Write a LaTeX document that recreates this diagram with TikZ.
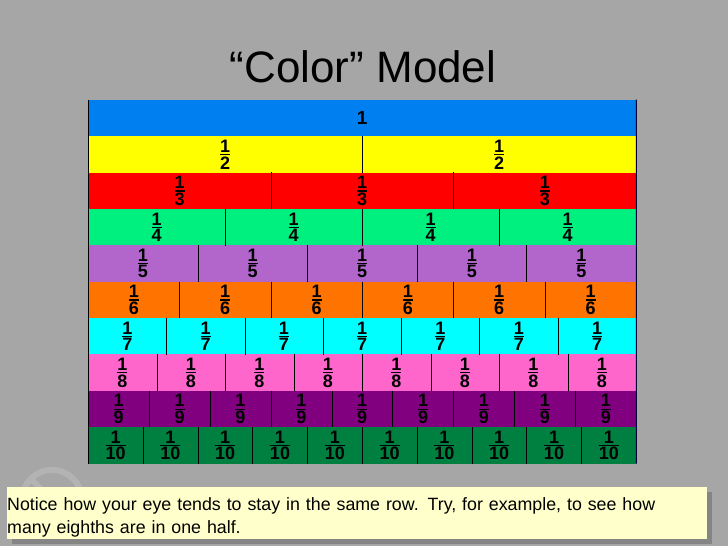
\documentclass[tikz,border=0pt]{standalone}
\usepackage{amsmath}
\usepackage{fontspec}
\setmainfont{Liberation Sans}
\usetikzlibrary{calc,shadows}

\definecolor{bg}{HTML}{A6A6A6}
\definecolor{rowi}{HTML}{0080F0}
\definecolor{rowii}{HTML}{FFFF00}
\definecolor{rowiii}{HTML}{FF0000}
\definecolor{rowiv}{HTML}{00F080}
\definecolor{rowv}{HTML}{B266CC}
\definecolor{rowvi}{HTML}{FF7400}
\definecolor{rowvii}{HTML}{00FFFF}
\definecolor{rowviii}{HTML}{FF66CC}
\definecolor{rowix}{HTML}{800080}
\definecolor{rowx}{HTML}{008040}
\definecolor{notebg}{HTML}{FFFFCC}
\definecolor{notesh}{HTML}{858585}

\newcommand{\fr}[1]{$\genfrac{}{}{1.2pt}{1}{\mbox{\bfseries 1}}{\mbox{\bfseries #1}}$}

\begin{document}
\begin{tikzpicture}[x=1pt,y=-1pt,
	cell/.style={inner sep=0pt, anchor=north west, minimum height=36.36pt},
	note/.style={fill=notebg, anchor=north west, minimum height=52pt,
		text width=700pt, inner xsep=0pt, inner ysep=0pt, align=left, font=\fontsize{17.8}{22.5}\selectfont,
		drop shadow={shadow xshift=5pt, shadow yshift=-5pt, fill=notesh, opacity=1}}]
	
	\useasboundingbox[fill=bg] (0,0) rectangle (728,546);
	
	\node[font=\fontsize{44}{50}\selectfont] (title) at (363,67) {“Color” Model};
	
	% the wall
	\foreach \n/\col [count=\r] in {1/rowi,2/rowii,3/rowiii,4/rowiv,5/rowv,6/rowvi,7/rowvii,8/rowviii,9/rowix,10/rowx}{
		\pgfmathsetmacro\w{548/\n}
		\pgfmathsetmacro\ytop{99.7+36.36*(\r-1)}
		\foreach \k in {1,...,\n}{
			\ifnum\n=1
				\node[cell, fill=\col, minimum width=\w pt, font=\fontsize{19}{20}\selectfont\bfseries]
					(c\n-\k) at ({88+\w*(\k-1)},\ytop) {1};
			\else
				\node[cell, fill=\col, minimum width=\w pt, font=\fontsize{18}{19}\selectfont]
					(c\n-\k) at ({88+\w*(\k-1)},\ytop) {\fr{\n}};
			\fi
		}
	}
	% dividers
	\foreach \n in {2,...,10}{
		\pgfmathtruncatemacro\m{\n-1}
		\foreach \k in {1,...,\m}
			\draw[line width=0.8pt] (c\n-\k.north east) -- (c\n-\k.south east);
	}
	\draw[line width=1pt] (c1-1.north west) -- (c10-1.south west);
	\draw[line width=1pt, black!80!blue] (c1-1.north east) -- (c10-10.south east);
	
	% faint mark behind the note
	\draw[line width=6pt, bg!85!white] (52,500) circle (30);
	\draw[line width=6pt, bg!85!white] (31,479) -- (73,521);
	
	\node[note] (msg) at (7,487) {\rule{0pt}{21pt}Notice how your eye tends to stay in the same row. Try, for example, to see how\\
		many eighths are in one half.};
	
\end{tikzpicture}
\end{document}
